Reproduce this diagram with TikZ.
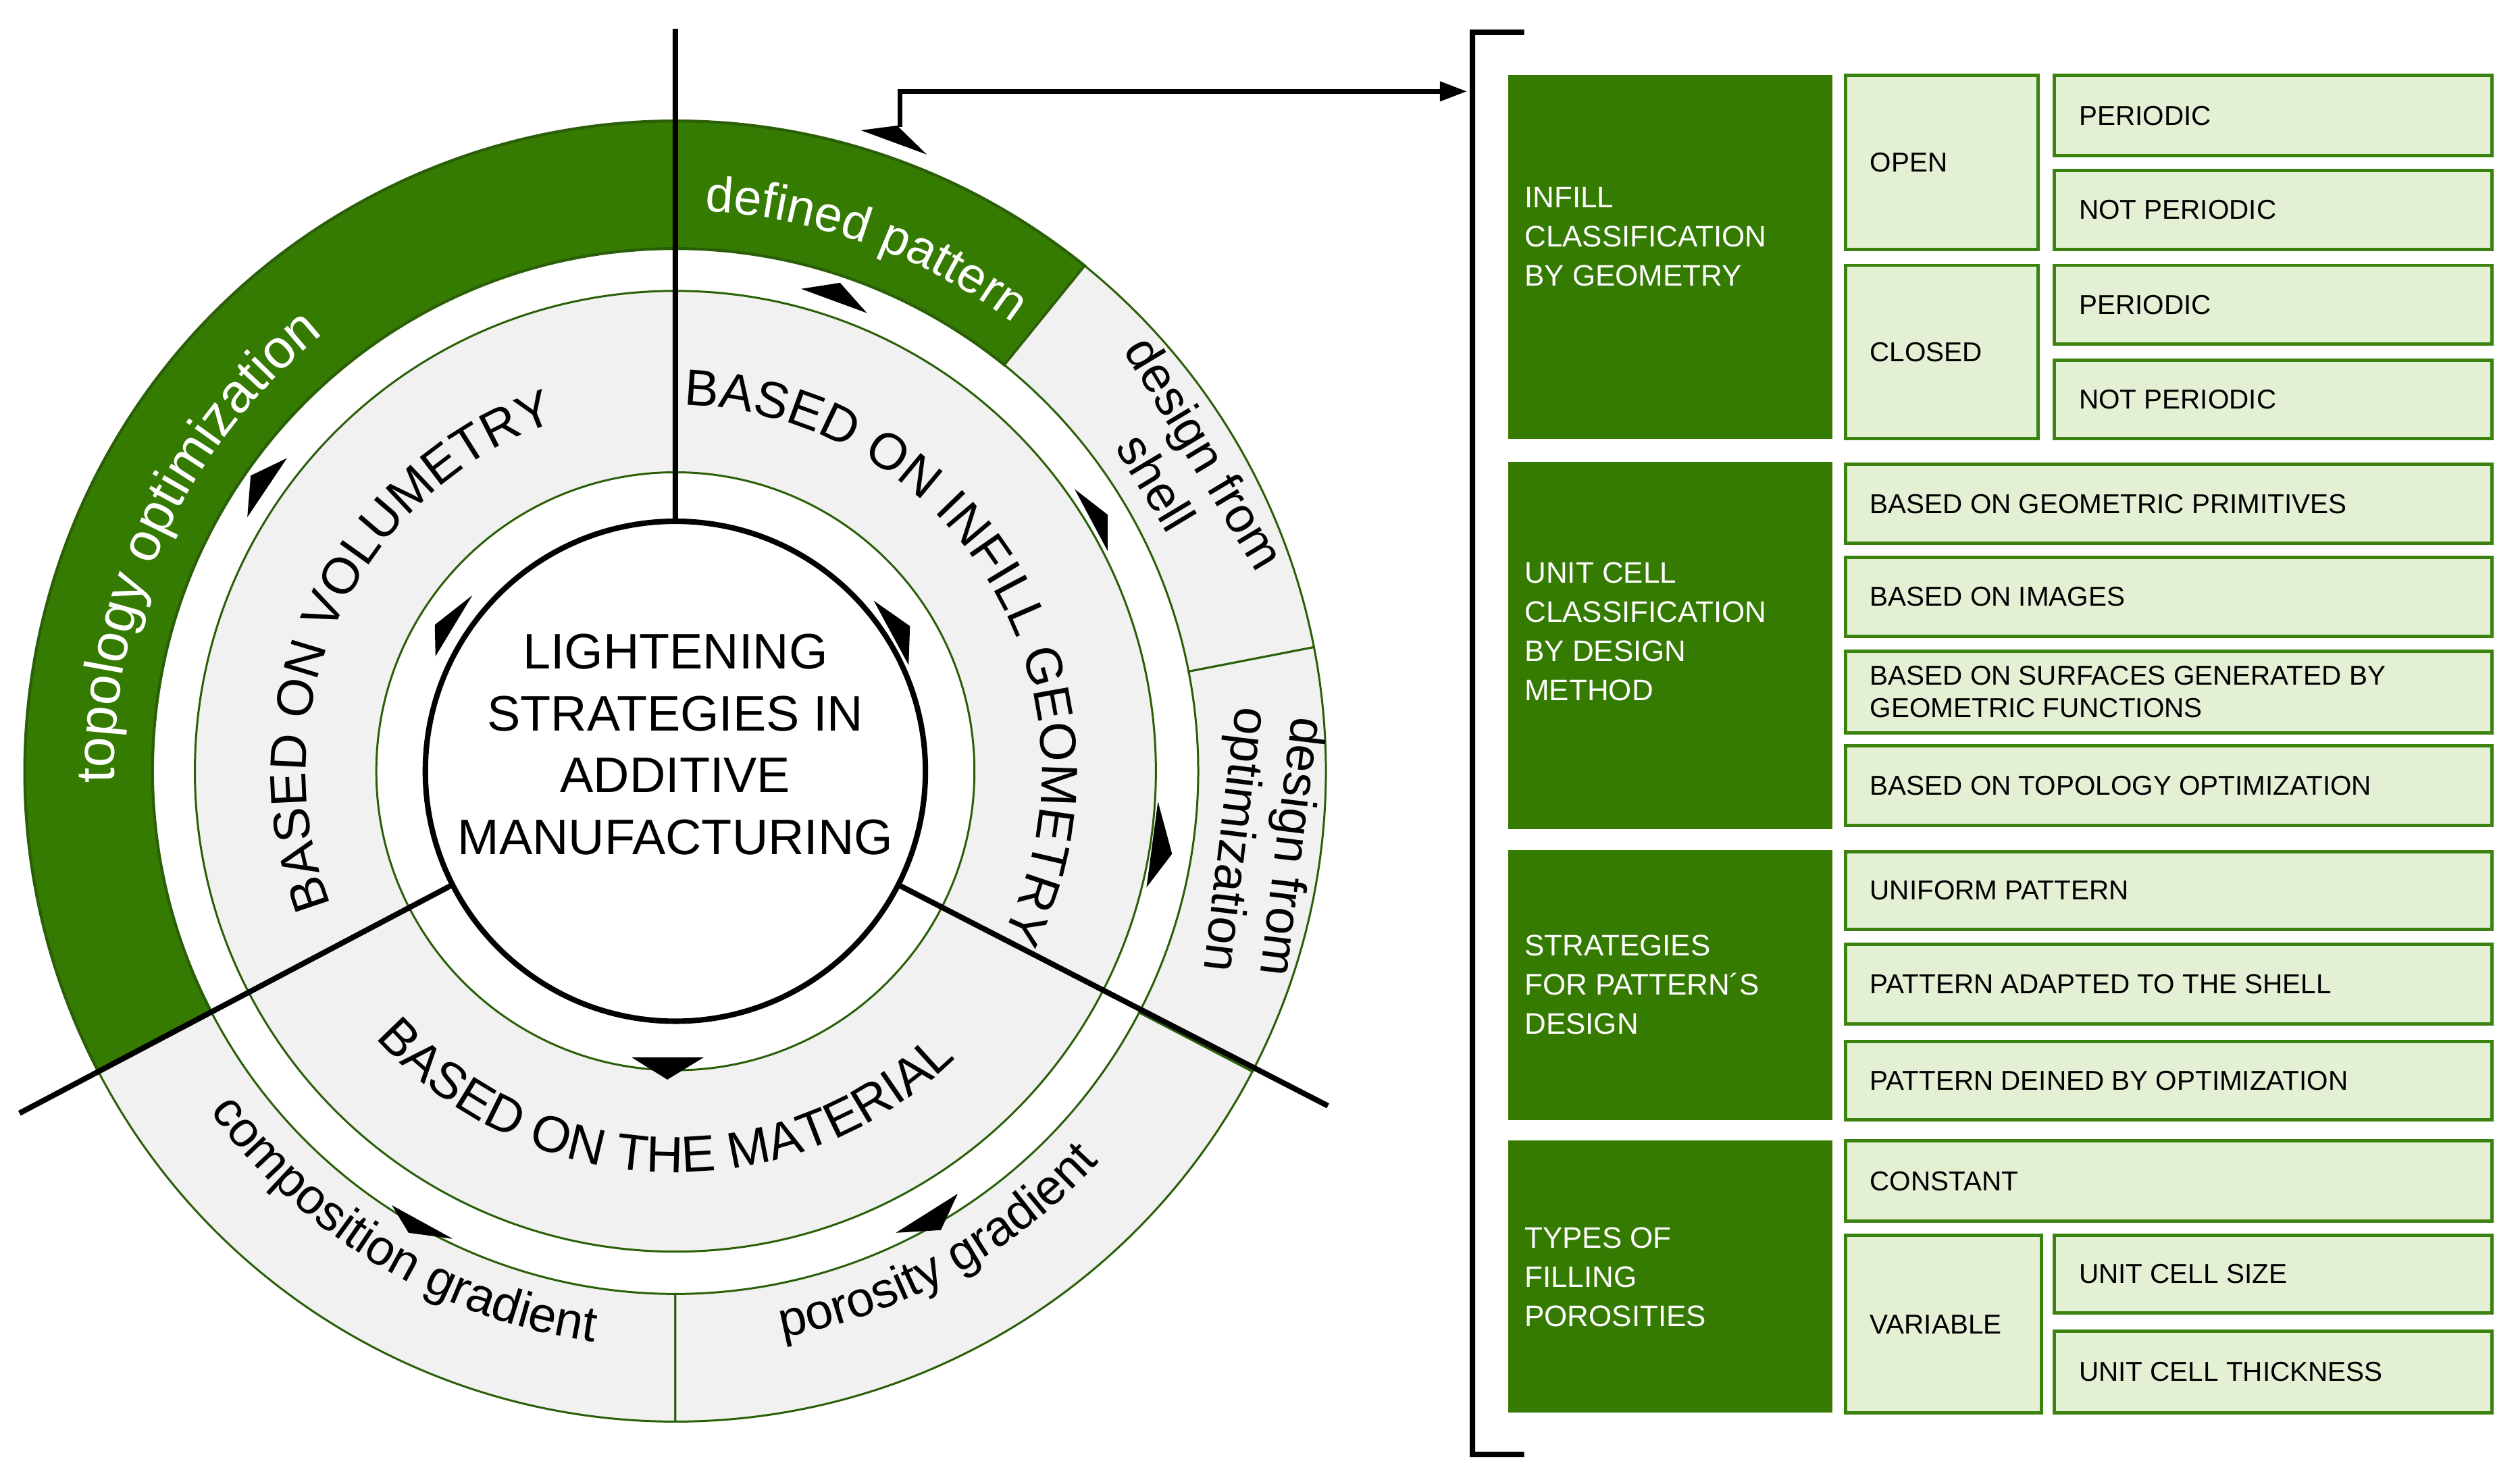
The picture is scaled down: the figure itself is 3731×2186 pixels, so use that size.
\documentclass[tikz,border=0pt]{standalone}
\usepackage{fontspec}
\setmainfont{Liberation Sans}
\usetikzlibrary{calc,arrows.meta,decorations.text}
\definecolor{dgreen}{HTML}{357A01}
\definecolor{dgreenline}{HTML}{2A5F08}
\definecolor{boxfill}{HTML}{E3F0D4}
\definecolor{boxline}{HTML}{3C820F}
\definecolor{rgray}{HTML}{F1F1F1}
\newcommand\mfont{\fontsize{21.5}{24}\selectfont}
\newcommand\ofont{\fontsize{21}{24}\selectfont}
\newcommand\tfont{\fontsize{23}{26}\selectfont}
\newcommand\bfont{\fontsize{11.5}{13.6}\selectfont}
\newcommand\dfont{\fontsize{12.5}{16.5}\selectfont}
\newcommand\sector[5]{\path[#5] ($(c)+(#1:#3)$) arc[start angle=#1,end angle=#2,radius=#3] -- ($(c)+(#2:#4)$) arc[start angle=#2,end angle=#1,radius=#4] -- cycle;}
\newcommand\cellbox[7]{%
 \node[#6, minimum width={(#4-#2)*0.01cm*0.995}, minimum height={(#5-#3)*0.01cm*0.995}] (#1) at ({(#2+#4)/2},{(#3+#5)/2}) {};}
\begin{document}
\begin{tikzpicture}[x=0.01cm,y=0.01cm,
  thinring/.style={draw=dgreenline, line width=0.85pt},
  graysec/.style={fill=rgray, draw=dgreenline, line width=0.85pt},
  greensec/.style={fill=dgreen, draw=dgreenline, line width=1.2pt},
  blk/.style={line width=2.3pt, black},
  arr/.style={fill=black},
  cell/.style={draw=boxline, fill=boxfill, line width=1.4pt, inner sep=0pt, outer sep=0pt},
  dark/.style={fill=dgreen, inner sep=0pt, outer sep=0pt},
  ctext/.style={anchor=west, font=\bfont, align=left, inner sep=0pt},
  dtext/.style={anchor=west, font=\dfont, align=left, text=white, inner sep=0pt},
  rtext/.style={font=\ofont, align=center, inner sep=0pt}]
\useasboundingbox (0,0) rectangle (3731,2186);
\begin{scope}[scale=0.995, yshift=0.11cm]
\coordinate (c) at (1005,1038);
% outer band
\sector{90}{207.5}{778}{968}{greensec}
\sector{51}{90}{778}{968}{greensec}
\sector{11}{51}{778}{968}{graysec}
\sector{-27.5}{11}{778}{968}{graysec}
\sector{207.5}{270}{778}{968}{graysec}
\sector{270}{332.5}{778}{968}{graysec}
% middle ring
\fill[rgray, even odd rule] (c) circle[radius=715] (c) circle[radius=445];
\draw[thinring] (c) circle[radius=715];
\draw[thinring] (c) circle[radius=445];
% core
\node[circle, draw, line width=2.3pt, fill=white, minimum size=7.40cm, inner sep=0pt, outer sep=0pt] (core) at (c) {};
\node[font=\fontsize{21}{26}\selectfont, align=center, inner sep=0pt] (coretext) at ([yshift=0.4cm]core.center)
  {LIGHTENING\\STRATEGIES IN\\ADDITIVE\\MANUFACTURING};
\coordinate (topend) at (1005,2143);
\coordinate (llend) at (29,529);
\coordinate (lrend) at (1976,540);
\draw[blk] (core.90) -- (topend);
\draw[blk] (core.207.5) -- (llend);
\draw[blk] (core.-27.2) -- (lrend);
% arrows
\fill[arr] (703,1300) -- (647,1256) -- (648,1209) -- cycle;
\fill[arr] (1300,1292) -- (1354,1254) -- (1352,1196) -- cycle;
\fill[arr] (940,612) -- (1047,612) -- (993,579) -- cycle;
\fill[arr] (1599,1458) -- (1648,1420) -- (1648,1366) -- cycle;
\fill[arr] (1723,993) -- (1744,915) -- (1706,865) -- cycle;
\fill[arr] (1425,409) -- (1400,355) -- (1333,351) -- cycle;
\fill[arr] (583,392) -- (674,342) -- (608,351) -- cycle;
\fill[arr] (1192,1756) -- (1250,1765) -- (1290,1720) -- cycle;
\fill[arr] (427,1504) -- (373,1478) -- (368,1416) -- cycle;
\fill[arr] (1281,1992) -- (1335,1999) -- (1379,1956) -- cycle;
% connector and bracket
\coordinate (cstart) at (1339,1997);
\coordinate (cbend) at (1339,2050);
\coordinate (cend) at (2183,2050);
\draw[line width=2pt, -{Triangle[length=0.4cm,width=0.28cm]}] (cstart) -- (cbend) -- (cend);
\coordinate (bt) at (2268,2138);
\coordinate (bb) at (2268,21);
\draw[line width=2.3pt] (bt) -- (2191,2138) -- (2191,21) -- (bb);
% curved texts
\path[decorate, decoration={text along path, text align=center, text={|\mfont|BASED ON VOLUMETRY}}]
  ($(c)+(210:550)$) arc[start angle=210, end angle=100, radius=550];
\path[decorate, decoration={text along path, text align=center, text={|\mfont|BASED ON INFILL GEOMETRY}}]
  ($(c)+(101:545)$) arc[start angle=101, end angle=-39, radius=545];
\path[decorate, decoration={text along path, text align=center, text={|\mfont|BASED ON THE MATERIAL}}]
  ($(c)+(200:597)$) arc[start angle=200, end angle=336, radius=597];
\path[decorate, decoration={text along path, text align=center, text={|\tfont\color{white}|topology optimization}}]
  ($(c)+(203:835)$) arc[start angle=203, end angle=107, radius=835];
\path[decorate, decoration={text along path, text align=center, text={|\ofont\color{white}|defined pattern}}]
  ($(c)+(96:835)$) arc[start angle=96, end angle=44, radius=835];
\path[decorate, decoration={text along path, text align=center, text={|\ofont|composition gradient}}]
  ($(c)+(199:858)$) arc[start angle=199, end angle=279, radius=858];
\path[decorate, decoration={text along path, text align=center, text={|\ofont|porosity gradient}}]
  ($(c)+(264:858)$) arc[start angle=264, end angle=334, radius=858];
\node[rtext, rotate=-59] (shell) at ($(c)+(31:878)$) {design from\\shell};
\node[rtext, rotate=-97] (opt) at ($(c)+(-7:878)$) {design from\\optimization};
% right panel
\cellbox{g1}{2244}{1533}{2727}{2074}{dark}{}
\node[dtext] (g1t) at ([xshift=0.24cm, yshift=0.3cm]g1.west) {INFILL\\CLASSIFICATION\\BY GEOMETRY};
\cellbox{open}{2746}{1815}{3033}{2074}{cell}{}
\node[ctext] (opent) at ([xshift=0.36cm]open.west) {OPEN};
\cellbox{closed}{2746}{1533}{3033}{1791}{cell}{}
\node[ctext] (closedt) at ([xshift=0.36cm]closed.west) {CLOSED};
\cellbox{p1}{3057}{1954}{3708}{2074}{cell}{}
\node[ctext] (p1t) at ([xshift=0.36cm]p1.west) {PERIODIC};
\cellbox{np1}{3057}{1815}{3708}{1932}{cell}{}
\node[ctext] (np1t) at ([xshift=0.36cm]np1.west) {NOT PERIODIC};
\cellbox{p2}{3057}{1674}{3708}{1791}{cell}{}
\node[ctext] (p2t) at ([xshift=0.36cm]p2.west) {PERIODIC};
\cellbox{np2}{3057}{1533}{3708}{1650}{cell}{}
\node[ctext] (np2t) at ([xshift=0.36cm]np2.west) {NOT PERIODIC};
\cellbox{g2}{2244}{952}{2727}{1499}{dark}{}
\node[dtext] (g2t) at ([xshift=0.24cm, yshift=0.2cm]g2.west) {UNIT CELL\\CLASSIFICATION\\BY DESIGN\\METHOD};
\cellbox{b1}{2746}{1377}{3708}{1495}{cell}{}
\node[ctext] (b1t) at ([xshift=0.36cm]b1.west) {BASED ON GEOMETRIC PRIMITIVES};
\cellbox{b2}{2746}{1239}{3708}{1356}{cell}{}
\node[ctext] (b2t) at ([xshift=0.36cm]b2.west) {BASED ON IMAGES};
\cellbox{b3}{2746}{1095}{3708}{1217}{cell}{}
\node[ctext] (b3t) at ([xshift=0.36cm]b3.west) {BASED ON SURFACES GENERATED BY\\GEOMETRIC FUNCTIONS};
\cellbox{b4}{2746}{957}{3708}{1076}{cell}{}
\node[ctext] (b4t) at ([xshift=0.36cm]b4.west) {BASED ON TOPOLOGY OPTIMIZATION};
\cellbox{g3}{2244}{519}{2727}{921}{dark}{}
\node[dtext] (g3t) at ([xshift=0.24cm]g3.west) {STRATEGIES\\FOR PATTERN´S\\DESIGN};
\cellbox{s1}{2746}{803}{3708}{918}{cell}{}
\node[ctext] (s1t) at ([xshift=0.36cm]s1.west) {UNIFORM PATTERN};
\cellbox{s2}{2746}{662}{3708}{780}{cell}{}
\node[ctext] (s2t) at ([xshift=0.36cm]s2.west) {PATTERN ADAPTED TO THE SHELL};
\cellbox{s3}{2746}{519}{3708}{636}{cell}{}
\node[ctext] (s3t) at ([xshift=0.36cm]s3.west) {PATTERN DEINED BY OPTIMIZATION};
\cellbox{g4}{2244}{83}{2727}{488}{dark}{}
\node[dtext] (g4t) at ([xshift=0.24cm]g4.west) {TYPES OF\\FILLING\\POROSITIES};
\cellbox{t1}{2746}{368}{3708}{488}{cell}{}
\node[ctext] (t1t) at ([xshift=0.36cm]t1.west) {CONSTANT};
\cellbox{var}{2746}{83}{3038}{347}{cell}{}
\node[ctext] (vart) at ([xshift=0.36cm]var.west) {VARIABLE};
\cellbox{u1}{3057}{232}{3708}{347}{cell}{}
\node[ctext] (u1t) at ([xshift=0.36cm]u1.west) {UNIT CELL SIZE};
\cellbox{u2}{3057}{83}{3708}{205}{cell}{}
\node[ctext] (u2t) at ([xshift=0.36cm]u2.west) {UNIT CELL THICKNESS};
\end{scope}
\end{tikzpicture}
\end{document}
